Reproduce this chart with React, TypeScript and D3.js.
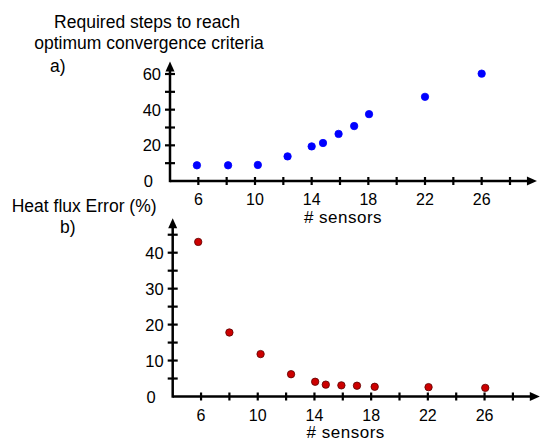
import React, { useEffect, useRef } from 'react';
import * as d3 from 'd3';

// panel a) required steps vs number of sensors
const sensorsA = [5.9, 8.1, 10.2, 12.3, 14.0, 14.8, 15.9, 17.0, 18.05, 22.0, 26.0];
const stepsA = [8.8, 8.8, 9.0, 13.8, 19.4, 21.3, 26.4, 30.8, 37.5, 47.2, 60.2];

// panel b) heat flux error vs number of sensors
const sensorsB = [5.8, 8.0, 10.2, 12.35, 14.05, 14.8, 15.9, 17.0, 18.25, 22.05, 26.05];
const errorB = [43.0, 17.8, 11.8, 6.2, 4.1, 3.3, 3.1, 3.0, 2.7, 2.6, 2.4];

const xTicks = [6, 8, 10, 12, 14, 16, 18, 20, 22, 24, 26, 28];
const xTickLabels = [6, 10, 14, 18, 22, 26];
const stepsTicks = [10, 20, 30, 40, 50, 60];
const stepsTickLabels = [0, 20, 40, 60];
const errorTicks = [5, 10, 15, 20, 25, 30, 35, 40, 45];
const errorTickLabels = [0, 10, 20, 30, 40];

const FONT = '"Liberation Sans", Arial, Helvetica, sans-serif';

interface PanelOpts {
  xs: number[];
  ys: number[];
  xRange: [number, number];
  yDomain: [number, number];
  yRange: [number, number];
  yTicks: number[];
  yLabels: number[];
  yArrow: number;
  fill: string;
  stroke: string;
}

const App: React.FC = () => {
  const svgRef = useRef<SVGSVGElement>(null);

  useEffect(() => {
    if (!svgRef.current) return;
    const svg = d3.select(svgRef.current);
    svg.selectAll('*').remove();

    const drawPanel = (o: PanelOpts) => {
      const x = d3.scaleLinear().domain([4, 28]).range(o.xRange);
      const y = d3.scaleLinear().domain(o.yDomain).range(o.yRange);
      const g = svg.append('g');
      const x0 = x(4);
      const y0 = y(0);
      const xEnd = x(29.9);
      const yEnd = y(o.yArrow);

      // axis lines
      g.append('line')
        .attr('x1', x0).attr('y1', y0).attr('x2', xEnd - 6).attr('y2', y0)
        .attr('stroke', '#000').attr('stroke-width', 2.5);
      g.append('line')
        .attr('x1', x0).attr('y1', y0 + 1.2).attr('x2', x0).attr('y2', yEnd + 6)
        .attr('stroke', '#000').attr('stroke-width', 2.5);

      // arrow heads
      g.append('path')
        .attr('d', `M${xEnd},${y0} L${xEnd - 10},${y0 - 4.5} L${xEnd - 10},${y0 + 4.5} Z`)
        .attr('fill', '#000');
      g.append('path')
        .attr('d', `M${x0},${yEnd} L${x0 - 4.5},${yEnd + 10} L${x0 + 4.5},${yEnd + 10} Z`)
        .attr('fill', '#000');

      // ticks crossing the axes
      g.selectAll('.xtick')
        .data(xTicks)
        .enter()
        .append('line')
        .attr('x1', (d) => x(d)).attr('x2', (d) => x(d))
        .attr('y1', y0 - 4).attr('y2', y0 + 4)
        .attr('stroke', '#000').attr('stroke-width', 2.2);
      g.selectAll('.ytick')
        .data(o.yTicks)
        .enter()
        .append('line')
        .attr('x1', x0 - 5).attr('x2', x0 + 5)
        .attr('y1', (d) => y(d)).attr('y2', (d) => y(d))
        .attr('stroke', '#000').attr('stroke-width', 2.2);

      // tick labels
      g.selectAll('.xlabel')
        .data(xTickLabels)
        .enter()
        .append('text')
        .attr('x', (d) => x(d))
        .attr('y', y0 + 24)
        .attr('text-anchor', 'middle')
        .style('font-family', FONT)
        .style('font-size', '16px')
        .text((d) => d);
      g.selectAll('.ylabel')
        .data(o.yLabels)
        .enter()
        .append('text')
        .attr('x', (d) => (d === 0 ? x0 - 17 : x0 - 9))
        .attr('y', (d) => y(d) + 6)
        .attr('text-anchor', 'end')
        .style('font-family', FONT)
        .style('font-size', '16.5px')
        .text((d) => d);

      g.append('text')
        .attr('x', x0 + 173)
        .attr('y', y0 + 41.5)
        .attr('text-anchor', 'middle')
        .style('font-family', FONT)
        .style('font-size', '17px')
        .style('letter-spacing', '0.5px')
        .text('# sensors');

      // points
      g.selectAll('.pt')
        .data(o.xs.map((v, i) => [v, o.ys[i]]))
        .enter()
        .append('circle')
        .attr('cx', (d) => x(d[0]))
        .attr('cy', (d) => y(d[1]))
        .attr('r', 3.7)
        .attr('fill', o.fill)
        .attr('stroke', o.stroke)
        .attr('stroke-width', 0.8);
    };

    drawPanel({
      xs: sensorsA,
      ys: stepsA,
      xRange: [170, 510],
      yDomain: [0, 60],
      yRange: [181, 74],
      yTicks: stepsTicks,
      yLabels: stepsTickLabels,
      yArrow: 67,
      fill: '#0000ff',
      stroke: '#0000ff',
    });

    drawPanel({
      xs: sensorsB,
      ys: errorB,
      xRange: [172.7, 512.9],
      yDomain: [0, 40],
      yRange: [396.5, 252.7],
      yTicks: errorTicks,
      yLabels: errorTickLabels,
      yArrow: 49.6,
      fill: '#cc0000',
      stroke: '#5a0000',
    });

    // titles
    const titles: [string, number, number, string][] = [
      ['Required steps to reach', 147, 28.3, 'middle'],
      ['optimum convergence criteria', 149, 49.3, 'middle'],
      ['a)', 50, 71.7, 'start'],
      ['Heat flux Error (%)', 11.7, 212.3, 'start'],
      ['b)', 60, 233.3, 'start'],
    ];
    svg.selectAll('.title')
      .data(titles)
      .enter()
      .append('text')
      .attr('x', (d) => d[1])
      .attr('y', (d) => d[2])
      .attr('text-anchor', (d) => d[3])
      .style('font-family', FONT)
      .style('font-size', '17.5px')
      .text((d) => d[0]);
  }, []);

  return (
    <svg
      ref={svgRef}
      width={550}
      height={448}
      style={{ position: 'absolute', left: 0, top: 0, background: '#fff' }}
    />
  );
};

export default App;
